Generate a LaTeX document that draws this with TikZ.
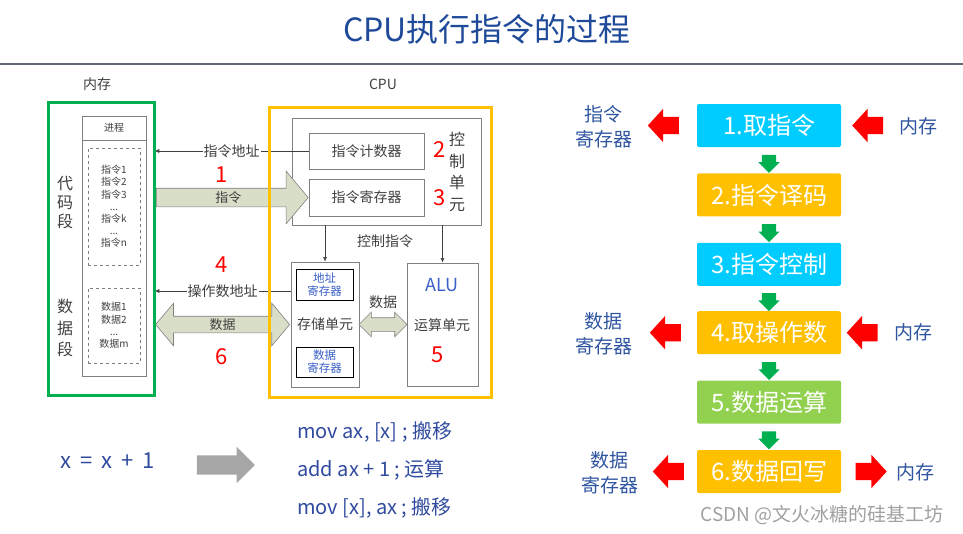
\documentclass[tikz,border=0pt]{standalone}
\usepackage{fontspec}
\setmainfont{Noto Sans CJK SC}
\usetikzlibrary{arrows.meta,positioning,shapes.arrows,calc}

\definecolor{titleblue}{HTML}{1F4A9A}
\definecolor{rulegray}{HTML}{5F6778}
\definecolor{txtgray}{HTML}{3F3F3F}
\definecolor{boxgray}{HTML}{808080}
\definecolor{memgreen}{HTML}{00B050}
\definecolor{cpuorange}{HTML}{FFC000}
\definecolor{arrfill}{HTML}{D9DEC9}
\definecolor{regblue}{HTML}{3A5FC8}
\definecolor{codeblue}{HTML}{2F4A9E}
\definecolor{sideblue}{HTML}{2F55A0}
\definecolor{stepcyan}{HTML}{00CCFF}
\definecolor{steplime}{HTML}{92D050}
\definecolor{convgray}{HTML}{A6A6A6}
\definecolor{wmgray}{HTML}{A0A0A0}

\begin{document}
\begin{tikzpicture}[x=1pt, y=-1pt,
  lbl/.style={text=txtgray, inner sep=1pt, font=\fontsize{14}{16}\selectfont},
  gbox/.style={draw=boxgray, line width=0.8pt, inner sep=0pt},
  dbox/.style={draw=boxgray, dashed, line width=0.6pt, minimum width=52pt, inner sep=0pt, text=txtgray, align=center, font=\fontsize{10}{12.2}\selectfont},
  regbox/.style={draw=black, line width=0.8pt, minimum width=57pt, minimum height=31pt, inner sep=0pt, text=regblue, align=center, font=\fontsize{11.5}{13}\selectfont},
  num/.style={text=red, font=\fontsize{22}{24}\selectfont},
  thinarr/.style={draw=txtgray, line width=0.6pt, -{Latex[length=1.6mm, width=1.4mm]}},
  fatarr/.style={single arrow, draw=boxgray, fill=arrfill, line width=0.6pt, inner sep=1pt, text=txtgray, font=\fontsize{13}{13}\selectfont, text height=13pt, text depth=3pt, single arrow head extend=17pt, single arrow tip angle=100},
  fatdarr/.style={double arrow, draw=boxgray, fill=arrfill, line width=0.6pt, inner sep=1pt, text=txtgray, font=\fontsize{13}{13}\selectfont, text height=12pt, text depth=2pt, double arrow head extend=13pt, double arrow tip angle=100},
  smalldarr/.style={double arrow, draw=boxgray, fill=arrfill, line width=0.6pt, inner xsep=0pt, inner ysep=6.5pt, double arrow head extend=5.5pt, double arrow tip angle=90},
  convarr/.style={single arrow, fill=convgray, inner xsep=0pt, inner ysep=9.5pt, single arrow head extend=8.5pt, single arrow tip angle=90},
  stepbox/.style={rounded corners=2pt, minimum width=144pt, minimum height=43pt, text=white, font=\fontsize{24}{26}\selectfont},
  downarr/.style={single arrow, shape border rotate=270, fill=memgreen, inner xsep=7pt, inner ysep=0pt, minimum height=18pt, single arrow head extend=3.5pt, single arrow tip angle=90},
  redarr/.style={single arrow, fill=red, inner xsep=0pt, inner ysep=8.5pt, minimum height=31pt, single arrow head extend=8pt, single arrow tip angle=95},
  side/.style={text=sideblue, align=center, font=\fontsize{19}{25}\selectfont}
]
\useasboundingbox (0,0) rectangle (963,533);

\node[font=\fontsize{32}{34}\selectfont, text=titleblue] (title) at (487,29) {CPU执行指令的过程};
\draw[rulegray, line width=1.2pt] (0,64) -- (963,64);

% memory
\node[lbl, font=\fontsize{14}{16}\selectfont] (memlbl) at (97,84) {内存};
\node[minimum width=106pt, minimum height=293pt] (mem) at (101.5,249) {};
\node[gbox, minimum width=64pt, minimum height=260pt] (proc) at (114,246) {};
\node[gbox, minimum width=64pt, minimum height=24pt, anchor=north, text=txtgray, font=\fontsize{10}{11}\selectfont] (prochd) at (proc.north) {进程};
\node[dbox, minimum height=117pt] (codebox) at (114,206.5) {指令1\\指令2\\指令3\\...\\指令k\\...\\指令n};
\node[dbox, minimum height=75pt] (databox) at (114,325.5) {数据1\\数据2\\...\\数据m};
\node[lbl, align=center, font=\fontsize{16}{19}\selectfont] (codeseg) at (65,203) {代\\码\\段};
\node[lbl, align=center, font=\fontsize{16}{21.5}\selectfont] (dataseg) at (65,328) {数\\据\\段};

% cpu
\node[lbl, font=\fontsize{14}{16}\selectfont] (cpulbl) at (383,84) {CPU};
\node[minimum width=222pt, minimum height=290pt] (cpu) at (380.5,252.5) {};
\node[gbox, minimum width=189pt, minimum height=107pt] (ctl) at (386.5,171.5) {};
\node[lbl, gbox, minimum width=115pt, minimum height=36pt] (pc) at (366.5,151) {指令计数器};
\node[lbl, gbox, minimum width=115pt, minimum height=37pt] (ir) at (366.5,197.5) {指令寄存器};
\node[lbl, align=center, font=\fontsize{16}{21.5}\selectfont] (ctllbl) at (457,172) {控\\制\\单\\元};
\node[num] (n2) at (440,150) {2};
\node[num] (n3) at (440,198) {3};
\node[lbl, gbox, minimum width=68pt, minimum height=125pt] (mu) at (325,324.5) {存储单元};
\node[regbox] (ar) at (324.5,284.5) {地址\\寄存器};
\node[regbox, minimum height=30pt] (dr) at (324.5,362) {数据\\寄存器};
\node[gbox, minimum width=71pt, minimum height=123pt] (alu) at (442.5,324.5) {};
\node[text=regblue, font=\fontsize{18}{19}\selectfont] (alulbl) at (442,285) {ALU};
\node[lbl] (alutxt) at (442,325) {运算单元};
\node[num] (n5) at (438,355) {5};
\draw[thinarr] (mu.north |- ctl.south) -- (mu.north);
\draw[thinarr] (alu.north |- ctl.south) -- (alu.north);
\node[lbl] (cmd) at (385,241) {控制指令};
\node[smalldarr, minimum height=48pt] (mualu) at ($(mu.east)!0.5!(alu.west)$) {};
\node[lbl] (mualulbl) at (383,302) {数据};

% memory <-> cpu
\draw[thinarr] (pc.west) -- (mem.east |- pc.west) node[lbl, midway, fill=white] (pcaddr) {指令地址};
\node[num] (n1) at (222,175) {1};
\node[fatarr, anchor=tip, minimum height=152pt] (instr) at (ir.west) {指令};
\coordinate (opaddr) at (mu.west |- 0,291);
\draw[thinarr] (opaddr) -- (mem.east |- opaddr) node[lbl, midway, fill=white] (oplbl) {操作数地址};
\node[num] (n4) at (222,265) {4};
\node[fatdarr, minimum height=134pt] (databus) at ($(mem.east |- mu.west)!0.5!(mu.west)$) {数据};
\node[num] (n6) at (222,357) {6};
\draw[memgreen, line width=3pt] (mem.north west) rectangle (mem.south east);
\draw[cpuorange, line width=3pt] (cpu.north west) rectangle (cpu.south east);

% x = x + 1
\node[text=codeblue, font=\fontsize{22}{24}\selectfont] (xeq) at (108,461) {x\hspace{4pt} =\hspace{4pt} x\hspace{4pt} +\hspace{4pt} 1};
\node[convarr, minimum height=58pt] (conv) at (221,465) {};
\node[text=codeblue, align=left, anchor=west, inner sep=0pt, font=\fontsize{20}{38}\selectfont] (asm) at (297,470) {mov ax, [x] ; 搬移\\add ax + 1 ; 运算\\mov [x], ax ; 搬移};

% steps
\node[stepbox, fill=stepcyan] (s1) at (769,125.5) {1.取指令};
\node[stepbox, fill=cpuorange, below=26pt of s1] (s2) {2.指令译码};
\node[stepbox, fill=stepcyan, below=26pt of s2] (s3) {3.指令控制};
\node[stepbox, fill=cpuorange, below=25pt of s3] (s4) {4.取操作数};
\node[stepbox, fill=steplime, below=26pt of s4] (s5) {5.数据运算};
\node[stepbox, fill=cpuorange, below=26pt of s5] (s6) {6.数据回写};
\node[downarr] (d1) at ($(s1.south)!0.5!(s2.north)$) {};
\node[downarr] (d2) at ($(s2.south)!0.5!(s3.north)$) {};
\node[downarr] (d3) at ($(s3.south)!0.5!(s4.north)$) {};
\node[downarr] (d4) at ($(s4.south)!0.5!(s5.north)$) {};
\node[downarr] (d5) at ($(s5.south)!0.5!(s6.north)$) {};

\node[redarr, shape border rotate=180] (l1) at ($(s1.west)+(-29.5,0)$) {};
\node[redarr, shape border rotate=180] (r1) at ($(s1.east)+(30.5,0)$) {};
\node[side] (l1lbl) at ($(s1.west)+(-93,1.5)$) {指令\\寄存器};
\node[side] (r1lbl) at ($(s1.east)+(77,0.5)$) {内存};
\node[redarr, shape border rotate=180] (l4) at ($(s4.west)+(-27.5,0)$) {};
\node[redarr, shape border rotate=180] (r4) at ($(s4.east)+(25,0)$) {};
\node[side] (l4lbl) at ($(s4.west)+(-93,1)$) {数据\\寄存器};
\node[side] (r4lbl) at ($(s4.east)+(72,0)$) {内存};
\node[redarr, shape border rotate=180] (l6) at ($(s6.west)+(-24.5,0)$) {};
\node[redarr] (r6) at ($(s6.east)+(26,0)$) {};
\node[side] (l6lbl) at ($(s6.west)+(-87,1)$) {数据\\寄存器};
\node[side] (r6lbl) at ($(s6.east)+(74,0.5)$) {内存};

\node[text=wmgray, font=\fontsize{19}{21}\selectfont] (wm) at (822,515) {CSDN @文火冰糖的硅基工坊};
\end{tikzpicture}
\end{document}
